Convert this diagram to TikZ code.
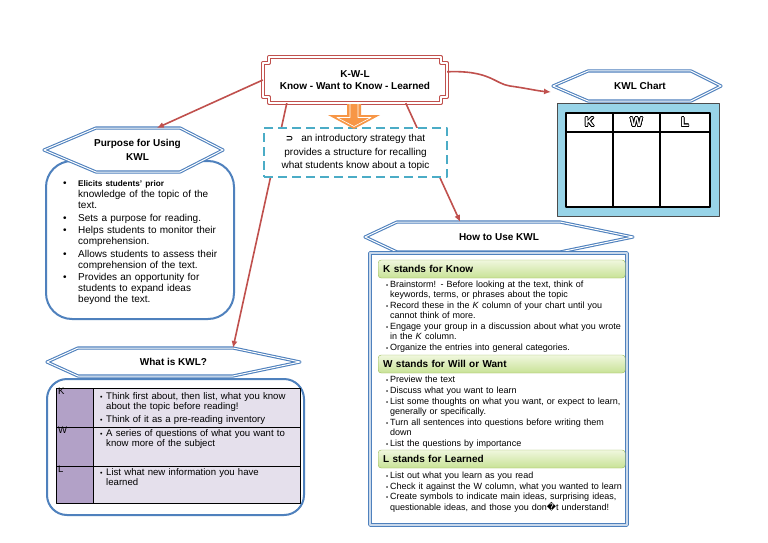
\documentclass[tikz,border=0pt]{standalone}
\usepackage{fontspec}
\setmainfont{Liberation Sans}
\newfontfamily\symfont{DejaVu Sans}
\usepackage[copies]{contour}
\contourlength{0.7pt}
\usetikzlibrary{positioning,calc,arrows.meta}
\definecolor{kwlred}{RGB}{192,80,77}
\definecolor{kwlblue}{RGB}{79,129,189}
\definecolor{kwlteal}{RGB}{75,172,198}
\definecolor{kwlorange}{RGB}{247,150,70}
\definecolor{chartblue}{RGB}{152,212,232}
\definecolor{kwlpurple}{RGB}{178,161,199}
\definecolor{kwllavender}{RGB}{229,224,236}
\definecolor{kwlgreen}{RGB}{155,187,89}
\definecolor{greentop}{RGB}{240,247,222}
\definecolor{greenbottom}{RGB}{200,226,150}
% list items: purpose box, what-table, how-panel
\newcommand{\pitem}[1]{\par\hangindent=15pt\hangafter=1\makebox[15pt][l]{\textbullet}#1}
\newcommand{\witem}[1]{\par\hangindent=6pt\hangafter=1\makebox[6pt][l]{\fontsize{7}{7}\selectfont\textbullet}#1}
\newcommand{\hitem}[1]{\par\hangindent=4pt\hangafter=1\makebox[4pt][l]{\fontsize{6}{6}\selectfont\textbullet}#1}
\tikzset{
  Hexa/.pic={
    \tikzset{/hexblock/.cd,#1}
    \pgfmathsetmacro{\hexhalf}{\hexh/2}
    \draw[hexline] (0,0) -- (\hexl,-\hexhalf) -- (\hexw-\hexr,-\hexhalf) -- (\hexw,0)
      -- (\hexw-\hexr,\hexhalf) -- (\hexl,\hexhalf) -- cycle;
    \coordinate (\hexname-west)   at (0,0);
    \coordinate (\hexname-east)   at (\hexw,0);
    \coordinate (\hexname-north)  at (\hexw/2,-\hexhalf);
    \coordinate (\hexname-nw)     at (\hexl,-\hexhalf);
    \coordinate (\hexname-ne)     at (\hexw-\hexr,-\hexhalf);
    \coordinate (\hexname-center) at (\hexw/2,0);
  },
  /hexblock/.search also={/tikz},
  /hexblock/.cd,
  width/.store in=\hexw,
  height/.store in=\hexh,
  lcut/.store in=\hexl,
  rcut/.store in=\hexr,
  name/.store in=\hexname,
  width=100,height=30,lcut=30,rcut=30,name=,
}

\begin{document}
\begin{tikzpicture}[x=1pt, y=-1pt, >=Latex, line join=round,
  font=\fontsize{10}{11.5}\selectfont]

\tikzset{
  hexline/.style={draw=kwlblue, fill=white, line width=1.1pt, double=white, double distance=1pt},
  hexlabel/.style={font=\bfseries\fontsize{10}{14}\selectfont, align=center, inner sep=0pt},
  roundbox/.style={draw=kwlblue, fill=white, line width=2pt},
  listtext/.style={anchor=north west, inner sep=0pt, align=left},
  tableline/.style={draw=black, line width=0.8pt},
  redarrow/.style={-{Latex[length=7pt,width=6pt]}, draw=kwlred, line width=1.6pt},
  greenbar/.style={draw=kwlgreen, top color=greentop, bottom color=greenbottom, rounded corners=3pt,
    minimum height=18, text width=237, inner xsep=5pt, anchor=west, align=left,
    font=\bfseries\fontsize{10}{12}\selectfont},
  cellletter/.style={anchor=north west, inner sep=0pt, font=\fontsize{9.5}{10}\selectfont},
  chartletter/.style={font=\bfseries\fontsize{13}{13}\selectfont, inner sep=0pt}
}

\useasboundingbox (0,0) rectangle (768,543);
\fill[white] (0,0) rectangle (768,543);

% -----------------------------------------
% Title (notched red frame)
% -----------------------------------------
\draw[draw=kwlred, fill=white, line width=1.3pt, double=white, double distance=1.3pt]
  (269,57) -- (441,57) -- (441,63) -- (447,63) -- (447,97) -- (441,97) -- (441,103)
  -- (269,103) -- (269,97) -- (263,97) -- (263,63) -- (269,63) -- cycle;
\node[font=\bfseries\fontsize{10}{11.5}\selectfont, align=center, minimum width=184,
      minimum height=46, inner sep=0pt] (title) at (355,80) {K-W-L\\Know - Want to Know - Learned};

% -----------------------------------------
% Purpose for using KWL
% -----------------------------------------
\draw[roundbox, rounded corners=26pt] (46,161) rectangle (234,319);
\pic at (44,150) {Hexa={name=purpose,width=179,height=44,lcut=52,rcut=43}};
\node[hexlabel] (purposelabel) at ($(purpose-center)+(4,0)$) {Purpose for Using\\KWL};

\node[listtext, text width=185, font=\fontsize{10}{11}\selectfont,
      execute at begin node={\setlength{\parindent}{0pt}\setlength{\parskip}{1.5pt}}]
  (purposelist) at (63,174) {%
  \pitem{{\fontsize{8.2}{11}\selectfont\bfseries Elicits students’ prior}\newline knowledge of the topic of the\newline text.}
  \pitem{Sets a purpose for reading.}
  \pitem{Helps students to monitor their\newline comprehension.}
  \pitem{Allows students to assess their\newline comprehension of the text.}
  \pitem{Provides an opportunity for\newline students to expand ideas\newline beyond the text.}\par};

% -----------------------------------------
% What is KWL? (table)
% -----------------------------------------
\draw[roundbox, rounded corners=20pt] (47,379) rectangle (304,515);
\pic at (47,362) {Hexa={name=what,width=253,height=28,lcut=31,rcut=67}};
\node[hexlabel] (whatlabel) at (what-center) {What is KWL?};

\fill[kwlpurple] (56,388) rectangle (93,503);
\fill[kwllavender] (93,388) rectangle (300,503);
\draw[tableline] (56,388) rectangle (300,503);
\draw[tableline] (93,388) -- (93,503);
\draw[tableline] (56,427) -- (300,427);
\draw[tableline] (56,466) -- (300,466);

\node[cellletter] (rowk) at (58,388) {K};
\node[cellletter] (roww) at (58,427) {W};
\node[cellletter] (rowl) at (58,466) {L};

\tikzset{whattext/.style={listtext, text width=198, font=\fontsize{9.6}{10.4}\selectfont,
  execute at begin node={\setlength{\parindent}{0pt}\setlength{\parskip}{2.4pt}}}}
\node[whattext] (whatk) at (100,386.5) {%
  \witem{Think first about, then list, what you know\newline about the topic before reading!}
  \witem{Think of it as a pre-reading inventory}\par};
\node[whattext] (whatw) at (100,423.5) {%
  \witem{A series of questions of what you want to\newline know more of the subject}\par};
\node[whattext] (whatl) at (100,462) {%
  \witem{List what new information you have\newline learned}\par};

% -----------------------------------------
% KWL Chart
% -----------------------------------------
\pic at (553,86) {Hexa={name=chart,width=168,height=30,lcut=35,rcut=30}};
\node[hexlabel] (chartlabel) at ($(chart-center)+(3,0)$) {KWL Chart};

\draw[fill=chartblue, draw=black!70, line width=0.5pt] (557,103) rectangle (719,216);
\draw[fill=white, draw=black, line width=1.2pt] (566,113) rectangle (710,207);
\draw[draw=black, line width=1.2pt] (566,132) -- (710,132);
\draw[draw=black, line width=1.2pt] (613,113) -- (613,207);
\draw[draw=black, line width=1.2pt] (660,113) -- (660,207);
\node[chartletter] (chartk) at (589.5,122.5) {\contour{black}{\textcolor{white}{K}}};
\node[chartletter] (chartw) at (636.5,122.5) {\contour{black}{\textcolor{white}{W}}};
\node[chartletter] (chartl) at (685,122.5) {\contour{black}{\textcolor{white}{L}}};

% -----------------------------------------
% How to use KWL
% -----------------------------------------
\pic at (365,237) {Hexa={name=how,width=268,height=30,lcut=32,rcut=73}};
\node[hexlabel] (howlabel) at (how-center) {How to Use KWL};

\draw[draw=kwlblue, fill=white, line width=1.1pt, double=kwlblue!30, double distance=1.2pt]
  (370,253) rectangle (627,525);

\node[greenbar] (khead) at (378,269) {K stands for Know};
\node[greenbar] (whead) at (378,364) {W stands for Will or Want};
\node[greenbar] (lhead) at (378,459) {L stands for Learned};

\tikzset{howtext/.style={listtext, text width=238, font=\fontsize{9}{10.3}\selectfont,
  execute at begin node={\setlength{\parindent}{0pt}\setlength{\parskip}{0.6pt}}}}
\node[howtext] (kitems) at (386,276) {%
  \hitem{Brainstorm! - Before looking at the text, think of\newline keywords, terms, or phrases about the topic}
  \hitem{Record these in the \textit{K} column of your chart until you\newline cannot think of more.}
  \hitem{Engage your group in a discussion about what you wrote\newline in the \textit{K} column.}
  \hitem{Organize the entries into general categories.}\par};
\node[howtext] (witems) at (386,371.5) {%
  \hitem{Preview the text}
  \hitem{Discuss what you want to learn}
  \hitem{List some thoughts on what you want, or expect to learn,\newline generally or specifically.}
  \hitem{Turn all sentences into questions before writing them\newline down}
  \hitem{List the questions by importance}\par};
\node[howtext] (litems) at (386,467) {%
  \hitem{List out what you learn as you read}
  \hitem{Check it against the W column, what you wanted to learn}
  \hitem{Create symbols to indicate main ideas, surprising ideas,\newline questionable ideas, and those you don{\symfont �}t understand!}\par};

% -----------------------------------------
% connectors from the title
% -----------------------------------------
\draw[redarrow] (title.west) -- ($(purpose-north)!0.5!(purpose-ne)$);
\draw[redarrow] ([xshift=24pt]title.south west) -- (what-ne);
\draw[redarrow] ([xshift=143pt]title.south west) -- ($(how-nw)!0.62!(how-north)$);
\draw[redarrow] ($(title.north east)+(0,15)$) .. controls (490,70) and (495,84) .. (510,86)
  .. controls (525,88) and (538,91) .. ($(chart-west)+(-2,6)$);

% -----------------------------------------
% introductory note (dashed) + orange arrow
% -----------------------------------------
\node[draw=kwlteal, fill=white, line width=2.4pt, dash pattern=on 9pt off 5pt,
      minimum width=183, minimum height=49, align=center, inner sep=0pt,
      font=\fontsize{10}{13.5}\selectfont] (intro) at (355.5,152.5)
  {{\symfont\bfseries\fontsize{9}{9}\selectfont ⊃}\hspace{8pt}an introductory strategy that\\
   provides a structure for recalling\\what students know about a topic};

\fill[kwlorange] (347,104) -- (361,104) -- (361,115) -- (380,115) -- (354,129)
  -- (328,115) -- (347,115) -- cycle;
\draw[white, line width=0.6pt] (350,104) -- (350,117.5) -- (337,117.5) -- (354,126.5)
  -- (371,117.5) -- (358,117.5) -- (358,104);
\end{tikzpicture}
\end{document}
